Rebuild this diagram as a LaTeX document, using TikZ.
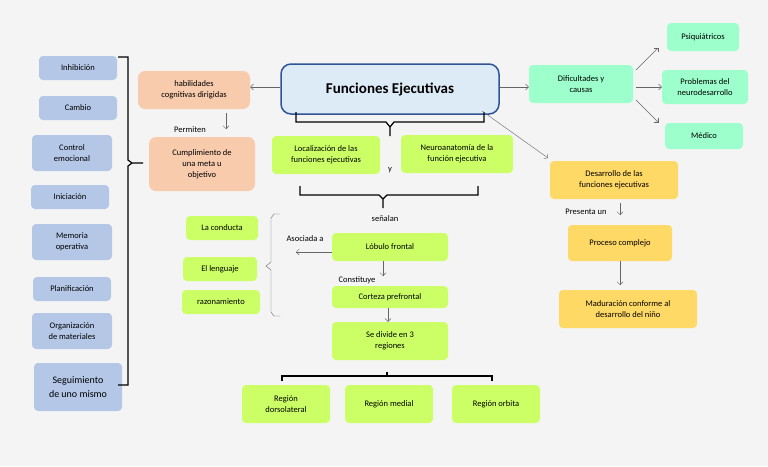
\documentclass[tikz,border=0pt]{standalone}
\usepackage{fontspec}
\setmainfont{Carlito}
\usetikzlibrary{arrows.meta}
\definecolor{bg}{HTML}{F4F4F4}
\definecolor{cblue}{HTML}{B4C7E7}
\definecolor{corange}{HTML}{F8CBAD}
\definecolor{cgreen}{HTML}{CCFF66}
\definecolor{cmint}{HTML}{9CFFCC}
\definecolor{cyellow}{HTML}{FFD966}
\definecolor{cmain}{HTML}{DDEBF7}
\definecolor{cmainb}{HTML}{2F5597}
\begin{document}
\begin{tikzpicture}[x=1pt,y=-1pt,
  box/.style={rounded corners=4pt,align=center,font=\fontsize{8.5}{11}\selectfont,inner sep=1pt},
  bl/.style={box,fill=cblue},
  orr/.style={box,fill=corange,rounded corners=7pt},
  gr/.style={box,fill=cgreen},
  mi/.style={box,fill=cmint},
  ye/.style={box,fill=cyellow},
  lab/.style={font=\fontsize{8.5}{11}\selectfont,inner sep=1pt},
  arr/.style={draw=black!60,-{Straight Barb[length=3pt]},thin},
  brk/.style={draw=black,line width=1.2pt},
  sbr/.style={draw=black!60,thin}]
\fill[bg] (0,0) rectangle (768,466);
\useasboundingbox (0,0) rectangle (768,466);
% left
\node[bl,minimum width=78,minimum height=24] (a1) at (78,68) {Inhibición};
\node[bl,minimum width=78,minimum height=24] (a2) at (78,108) {Cambio};
\node[bl,minimum width=80,minimum height=36] (a3) at (72,153) {Control\\emocional};
\node[bl,minimum width=78,minimum height=24] (a4) at (70,197) {Iniciación};
\node[bl,minimum width=80,minimum height=36] (a5) at (72,242) {Memoria\\operativa};
\node[bl,minimum width=78,minimum height=24] (a6) at (72,289) {Planificación};
\node[bl,minimum width=80,minimum height=36] (a7) at (72,331) {Organización\\de materiales};
\node[bl,minimum width=88,minimum height=48,font=\fontsize{10}{14}\selectfont] (a8) at (78,387) {Seguimiento\\de uno mismo};
\draw[brk] (118,57) -- (128,57) -- (128,160) -- (132,163) -- (143,163);
\draw[brk] (132,163) -- (128,166) -- (128,385) -- (118,385);
% main
\node[box,fill=cmain,draw=cmainb,line width=1.5pt,rounded corners=10pt,minimum width=218,minimum height=50,font=\fontsize{15}{18}\selectfont\bfseries] (m) at (390,89) {Funciones Ejecutivas};
\node[orr,minimum width=112,minimum height=38] (h) at (194,90) {habilidades\\cognitivas dirigidas};
\node[orr,minimum width=106,minimum height=54] (c) at (202,164) {Cumplimiento de\\una meta u\\objetivo};
\draw[arr] (m.west|-0,87) -- (h.east|-0,87);
\draw[arr] (226,113) -- (226,129);
\node[lab] (perm) at (190,130) {Permiten};
% brace under main
\draw[brk] (296,112) -- (296,122) -- (386,122) -- (390,127) -- (390,136);
\draw[brk] (390,127) -- (394,122) -- (484,122) -- (484,112);
\node[gr,minimum width=108,minimum height=38] (loc) at (326,155) {Localización de las\\funciones ejecutivas};
\node[gr,minimum width=112,minimum height=38] (neu) at (457,154) {Neuroanatomía de la\\función ejecutiva};
\node[lab] (y) at (390,170) {y};
\draw[brk] (300,186) -- (300,195) -- (379,195) -- (383,199) -- (383,208);
\draw[brk] (383,199) -- (387,195) -- (478,195) -- (478,186);
\node[lab] (sen) at (385,219) {señalan};
\node[gr,minimum width=116,minimum height=28] (lob) at (390,247) {Lóbulo frontal};
\node[lab] (aso) at (305,239) {Asociada a};
\draw[arr] (lob.west|-0,252) -- (296,252);
\draw[sbr] (280,214) -- (274,214) -- (271,218) -- (271,262) -- (266,266) -- (271,270) -- (271,312) -- (274,316) -- (280,316);
\node[gr,minimum width=72,minimum height=24] (l1) at (222,228) {La conducta};
\node[gr,minimum width=74,minimum height=24] (l2) at (220,269) {El lenguaje};
\node[gr,minimum width=78,minimum height=24] (l3) at (221,302) {razonamiento};
\node[gr,minimum width=116,minimum height=22] (cor) at (390,297) {Corteza prefrontal};
\draw[arr] (lob.south-|383,0) -- (383,276);
\node[lab] (cons) at (357,280) {Constituye};
\node[gr,minimum width=116,minimum height=38] (div) at (390,341) {Se divide en 3\\regiones};
\draw[arr] (cor.south-|388,0) -- (div.north-|388,0);
\draw[brk] (282,381) -- (282,376) -- (492,376) -- (492,381);
\draw[brk] (387,376) -- (387,372);
\node[gr,minimum width=88,minimum height=38] (r1) at (286,404) {Región\\dorsolateral};
\node[gr,minimum width=88,minimum height=38] (r2) at (389,404) {Región medial};
\node[gr,minimum width=88,minimum height=38] (r3) at (496,404) {Región orbita};
% right
\node[mi,minimum width=104,minimum height=38] (d) at (581,84) {Dificultades y\\causas};
\draw[arr] (m.east|-0,87) -- (d.west|-0,87);
\node[mi,minimum width=72,minimum height=28] (p1) at (703,37) {Psiquiátricos};
\node[mi,minimum width=86,minimum height=34] (p2) at (705,87) {Problemas del\\neurodesarrollo};
\node[mi,minimum width=78,minimum height=26] (p3) at (704,136) {Médico};
\draw[arr] (636,70) -- (658,48);
\draw[arr] (636,87) -- (p2.west|-0,87);
\draw[arr] (636,100) -- (658,122);
\node[ye,minimum width=128,minimum height=38] (des) at (614,180) {Desarrollo de las\\funciones ejecutivas};
\draw[arr] (482,111) -- (548,158);
\node[lab] (pres) at (586,212) {Presenta un};
\draw[arr] (620,203) -- (620,215);
\node[ye,minimum width=104,minimum height=36] (pc) at (620,243) {Proceso complejo};
\draw[arr] (pc.south-|620,0) -- (620,285);
\node[ye,minimum width=138,minimum height=38] (mad) at (628,309) {Maduración conforme al\\desarrollo del niño};
\end{tikzpicture}
\end{document}
